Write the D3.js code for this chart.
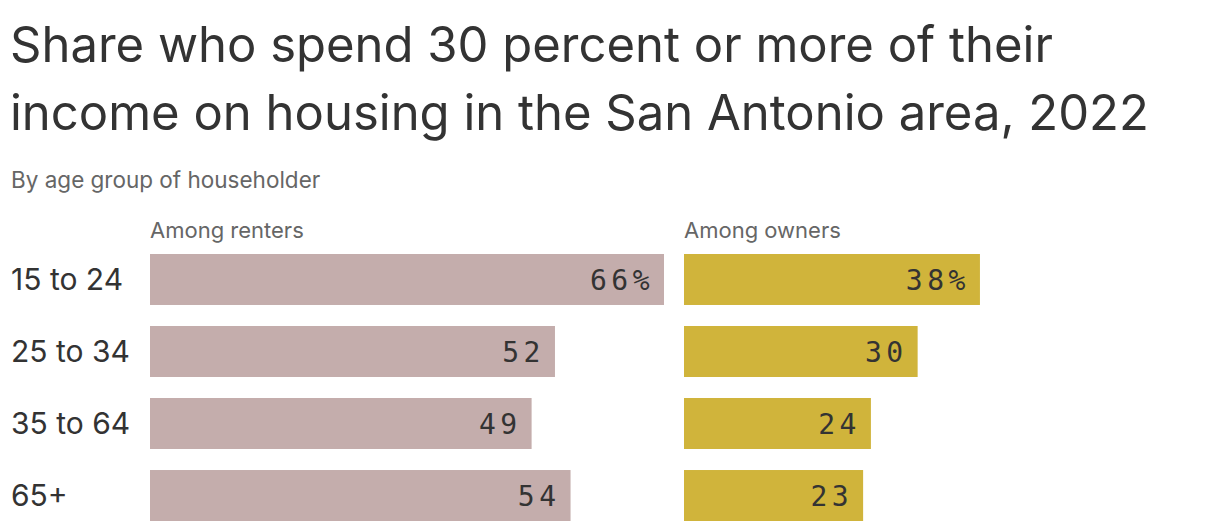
<!DOCTYPE html>
<html>
<head>
<meta charset="utf-8">
<script src="https://cdn.jsdelivr.net/npm/d3@7"></script>
<style>
  body { margin: 0; background: #fff; }
  svg text { font-family: Inter, "Noto Sans", sans-serif; }
  .value { font-family: "DejaVu Sans Mono", monospace; }
</style>
</head>
<body>
<div id="chart"></div>
<script>
'use strict';

var ageGroups = ['15 to 24', '25 to 34', '35 to 64', '65+'];
var renters = [66, 52, 49, 54];
var owners = [38, 30, 24, 23];
var panelTitles = ['Among renters', 'Among owners'];

var titleLines = [
  'Share who spend 30 percent or more of their',
  'income on housing in the San Antonio area, 2022'
];
var subtitle = 'By age group of householder';

var width = 1220, height = 532;

var svg = d3.select('#chart').append('svg')
  .attr('width', width)
  .attr('height', height);

// Title
svg.selectAll('.title')
  .data(titleLines)
  .enter().append('text')
    .attr('class', 'title')
    .attr('x', 10)
    .attr('y', function(d, i) { return 62 + i * 68; })
    .attr('fill', '#333')
    .style('font-size', '49px')
    .text(function(d) { return d; });

svg.append('text')
  .attr('x', 11)
  .attr('y', 188)
  .attr('fill', '#666')
  .style('font-size', '22.5px')
  .text(subtitle);

// Scales
var y = d3.scaleBand()
  .domain(ageGroups)
  .range([254, 521])
  .paddingInner(0.292)
  .paddingOuter(0);

var x = d3.scaleLinear()
  .domain([0, 66])
  .range([0, 514]);

var panelX = [150, 684];
var colors = ['#c4adac', '#d0b43b'];
var series = [renters, owners];

// Row labels
svg.selectAll('.row-label')
  .data(ageGroups)
  .enter().append('text')
    .attr('class', 'row-label')
    .attr('x', 11)
    .attr('y', function(d) { return y(d) + y.bandwidth() / 2; })
    .attr('dy', '0.35em')
    .attr('fill', '#333')
    .style('font-size', '30px')
    .text(function(d) { return d; });

series.forEach(function(vals, s) {
  var g = svg.append('g')
    .attr('transform', 'translate(' + panelX[s] + ',0)');

  g.append('text')
    .attr('x', 0)
    .attr('y', 238)
    .attr('fill', '#666')
    .style('font-size', '22px')
    .text(panelTitles[s]);

  g.selectAll('rect')
    .data(vals)
    .enter().append('rect')
      .attr('x', 0)
      .attr('y', function(d, i) { return y(ageGroups[i]); })
      .attr('width', function(d) { return x(d); })
      .attr('height', y.bandwidth())
      .attr('fill', colors[s]);

  g.selectAll('.value')
    .data(vals)
    .enter().append('text')
      .attr('class', 'value')
      .attr('x', function(d) { return x(d) - 10; })
      .attr('y', function(d, i) { return y(ageGroups[i]) + y.bandwidth() / 2; })
      .attr('dy', '0.36em')
      .attr('text-anchor', 'end')
      .attr('fill', '#333')
      .style('font-size', '28px')
      .style('letter-spacing', '4.5px')
      .text(function(d, i) { return i === 0 ? d + '%' : d; });
});
</script>
</body>
</html>
